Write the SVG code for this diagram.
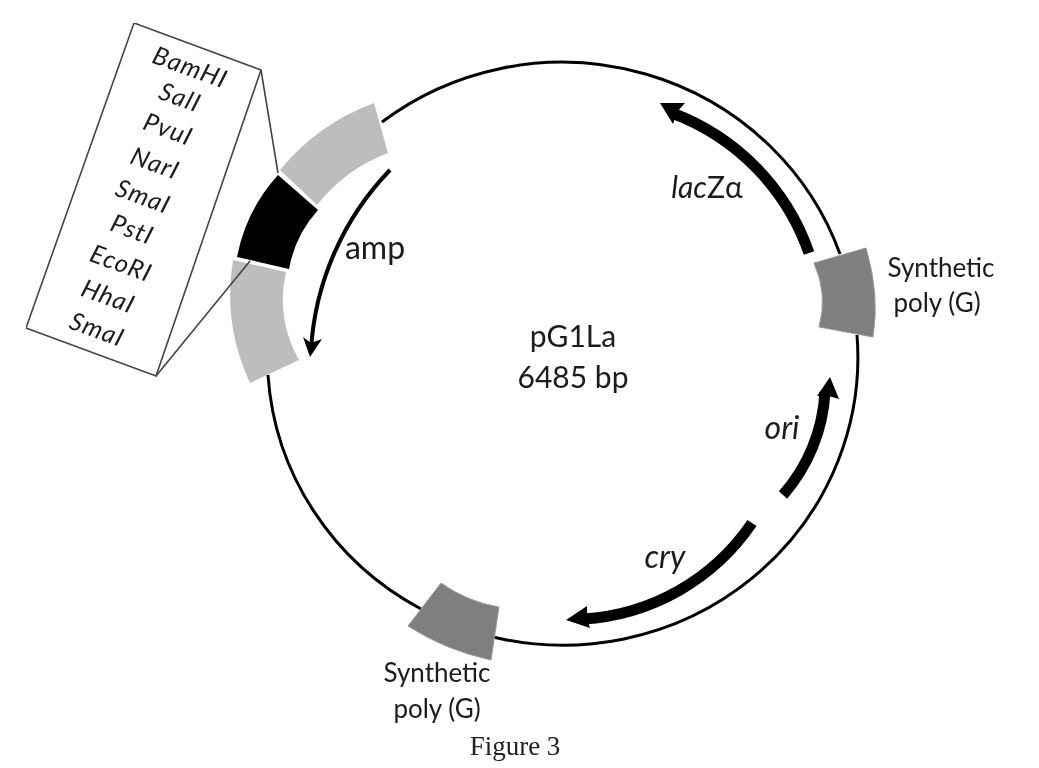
<svg xmlns="http://www.w3.org/2000/svg" width="1039" height="768" viewBox="0 0 1039 768">
<style>
.t{font-family:"Lato","Noto Sans","Liberation Sans",sans-serif;fill:#1a1a1a;text-anchor:middle}
.m{font-size:30px}.l{font-size:32px}.s{font-size:26px}.i{font-style:italic}.r{font-size:25px;font-style:italic;letter-spacing:1.2px}
.line{fill:none;stroke:#000;stroke-width:3}
.thick{fill:none;stroke:#000;stroke-width:11}
.thin{fill:none;stroke:#444;stroke-width:1.6}
.lg{fill:#bdbdbd}.dg{fill:#7f7f7f;stroke:#999;stroke-width:1}
</style>
<defs><filter id="soft" x="0" y="0" width="100%" height="100%"><feGaussianBlur stdDeviation="0.55"/></filter></defs>
<rect width="1039" height="768" fill="#fff"/>
<g filter="url(#soft)">
<g id="connectors">
<path class="line" d="M382 122A295 288 0 0 1 840 254"/>
<path class="line" d="M857 335A295 288 0 0 1 493 637"/>
<path class="line" d="M421 609A295 288 0 0 1 268 375"/>
<path class="thick" d="M809 253A230 230 0 0 0 672 113"/>
<path d="M660 103L685 103L677 112L673 124Z"/>
<path class="thick" d="M783 495A170 170 0 0 0 825 392"/>
<path d="M830 377L817 396L825 395L839 399Z"/>
<path class="thick" d="M752 523A220 220 0 0 1 583 619"/>
<path d="M566 620L587 606L587 618L590 628Z"/>
<path fill="none" stroke="#000" stroke-width="4" d="M390 170A283 283 0 0 0 311 350"/>
<path d="M303 337L311 343L322 339L310 357Z"/>
</g>
<g id="insert-left-upper"><path class="lg" d="M374 103A220 215 0 0 0 280 170L317 205A165 165 0 0 1 388 153Z"/></g>
<g id="mcs"><path d="M278 175L318 210A120 120 0 0 0 289 269L237 257A170 170 0 0 1 278 175Z"/></g>
<g id="insert-left-lower"><path class="lg" d="M233 260L286 272A120 120 0 0 0 299 360L250 383A210 210 0 0 1 233 260Z"/></g>
<path class="thin" d="M261 70L278 173M156 376L250 261"/>
<g id="synthetic-right"><path class="dg" d="M814 263L866 248Q880 295 873 337L819 327Q828 295 814 263Z"/>
<text class="t s" x="941" y="277">Synthetic</text><text class="t s" x="937" y="312">poly (G)</text></g>
<g id="synthetic-bottom"><path class="dg" d="M441 583Q468 602 499 607L491 660Q445 650 408 626Z"/>
<text class="t s" x="437" y="682">Synthetic</text><text class="t s" x="437" y="718">poly (G)</text></g>
<g id="mcs-box">
<path fill="#fff" stroke="#444" stroke-width="1.6" d="M134 23L261 70L156 376L26 328Z"/>
<text class="t r" transform="translate(190 68) rotate(20)" y="8">BamHI</text>
<text class="t r" transform="translate(180 98) rotate(20)" y="8">SalI</text>
<text class="t r" transform="translate(168 130) rotate(20)" y="8">PvuI</text>
<text class="t r" transform="translate(155 164) rotate(20)" y="8">NarI</text>
<text class="t r" transform="translate(143 197) rotate(20)" y="8">SmaI</text>
<text class="t r" transform="translate(132 230) rotate(20)" y="8">PstI</text>
<text class="t r" transform="translate(121 264) rotate(20)" y="8">EcoRI</text>
<text class="t r" transform="translate(108 297) rotate(20)" y="8">HhaI</text>
<text class="t r" transform="translate(97 330) rotate(20)" y="8">SmaI</text>
</g>
<g id="labels">
<text class="t l" x="375" y="259">amp</text>
<text class="t m" x="573" y="347">pG1La</text>
<text class="t m" x="573" y="388">6485 bp</text>
<text class="t m" x="707" y="198"><tspan class="i">lac</tspan>Zα</text>
<text class="t l i" x="782" y="439">ori</text>
<text class="t l i" x="665" y="568">cry</text>
<text x="515" y="755" font-family="Liberation Serif,serif" font-size="27" text-anchor="middle" fill="#222">Figure 3</text>
</g>
</g>
</svg>
